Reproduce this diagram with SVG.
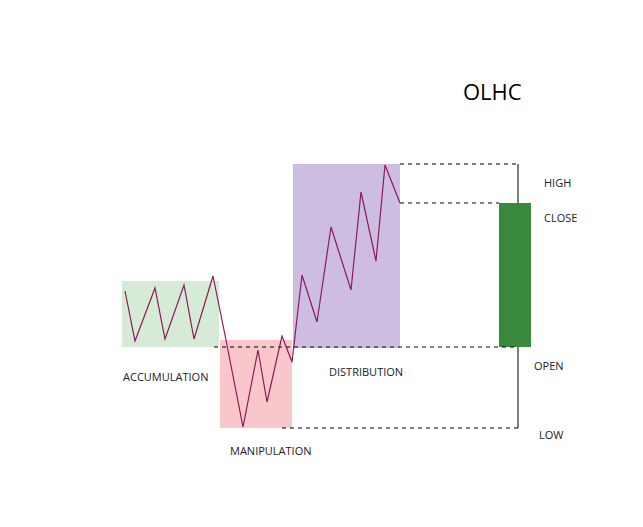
<svg xmlns="http://www.w3.org/2000/svg" width="643" height="527" viewBox="0 0 643 527">
<style>
.t{font-family:"Open Sans","DejaVu Sans",sans-serif;font-size:11px;fill:#222}
.d{stroke:#000;stroke-width:1;stroke-dasharray:4,4;fill:none}
</style>
<rect width="643" height="527" fill="#fff"/>
<g id="accumulation"><rect x="122" y="281" width="97" height="66" fill="#d5ebd5"/><text class="t" x="123" y="381">ACCUMULATION</text></g>
<g id="manipulation"><rect x="220" y="340" width="72" height="88" fill="#f9c6ca"/><text class="t" x="230" y="455">MANIPULATION</text></g>
<g id="distribution"><rect x="293" y="164" width="107" height="184" fill="#cdbde0"/><text class="t" x="329" y="376">DISTRIBUTION</text></g>
<g id="candle"><line x1="518" y1="164" x2="518" y2="428" stroke="#000"/><rect x="499" y="203" width="32" height="144" fill="#3a8a3e"/></g>
<g id="connectors">
<line class="d" x1="400" y1="164" x2="518" y2="164"/>
<line class="d" x1="400" y1="203" x2="499" y2="203"/>
<line class="d" x1="214" y1="347" x2="518" y2="347"/>
<line class="d" x1="282" y1="428" x2="518" y2="428"/>
<polyline fill="none" stroke="#8b1a5a" stroke-width="1.2" points="125,291 135,341 155,288 165,339 184,285 194,339 213,276 226,340 243,427 258,350 267,402 282,336 292,362 302,275 317,322 331,227 351,290 361,192 376,261 385,165 400,203"/>
</g>
<text x="463" y="100" font-family="Open Sans,DejaVu Sans,sans-serif" font-size="22" fill="#000">OLHC</text>
<text class="t" x="544" y="187">HIGH</text>
<text class="t" x="544" y="222">CLOSE</text>
<text class="t" x="534" y="370">OPEN</text>
<text class="t" x="539" y="439">LOW</text>
</svg>
